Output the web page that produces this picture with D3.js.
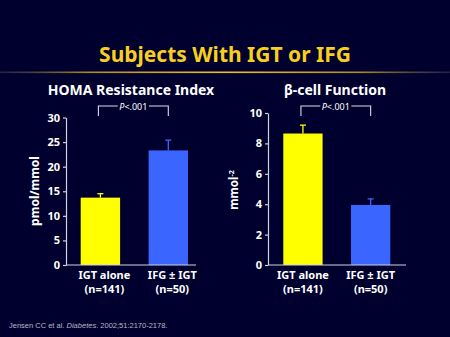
<!DOCTYPE html>
<html><head><meta charset="utf-8">
<script src="https://cdn.jsdelivr.net/npm/d3@7"></script>
<style>html,body{margin:0;padding:0;background:#00002e;}svg{display:block;}</style>
</head><body>
<svg id="c" width="450" height="337"></svg>
<script>
const categories = ["IGT alone", "IFG ± IGT"];
const categoryN = ["(n=141)", "(n=50)"];
const homaValues = [13.7, 23.3];
const homaSE = [0.8, 2.1];
const homaTicks = [0, 5, 10, 15, 20, 25, 30];
const betaValues = [8.65, 3.95];
const betaSE = [0.55, 0.4];
const betaTicks = [0, 2, 4, 6, 8, 10];
const barColors = ["#ffff00", "#3a66ff"];

const svg = d3.select("#c");
const W = 450, H = 337;
svg.append("rect").attr("width", W).attr("height", H).attr("fill", "#00002e");

const defs = svg.append("defs");
const g = defs.append("linearGradient").attr("id", "gl").attr("x1", "0").attr("x2", "1");
g.append("stop").attr("offset", "0").attr("stop-color", "#3a3a50").attr("stop-opacity", 0.6);
g.append("stop").attr("offset", "0.2").attr("stop-color", "#b08a20");
g.append("stop").attr("offset", "0.5").attr("stop-color", "#f0c020");
g.append("stop").attr("offset", "0.8").attr("stop-color", "#b08a20");
g.append("stop").attr("offset", "1").attr("stop-color", "#3a3a50").attr("stop-opacity", 0.6);

const font = "'Noto Sans', 'DejaVu Sans', sans-serif";

svg.append("text").attr("x", 225).attr("y", 62).attr("text-anchor", "middle")
  .attr("font-family", font).attr("font-weight", "bold").attr("font-size", 21)
  .attr("fill", "#f8cf1e").text("Subjects With IGT or IFG");
svg.append("rect").attr("x", 0).attr("y", 71.5).attr("width", W).attr("height", 1.6).attr("fill", "url(#gl)");

function panel(opt) {
  const gp = svg.append("g");
  const y = d3.scaleLinear().domain([0, opt.max]).range([265, opt.yTop]);
  const x = d3.scaleBand().domain(categories).range(opt.barRange).paddingInner(0.42).paddingOuter(0);
  gp.append("text").attr("x", opt.titleX).attr("y", 95).attr("text-anchor", "middle")
    .attr("font-family", font).attr("font-weight", "bold").attr("font-size", 14)
    .attr("fill", "#ffffff").text(opt.title);
  gp.selectAll("rect.bar").data(opt.values).join("rect").attr("class", "bar")
    .attr("x", (d, i) => x(categories[i])).attr("width", x.bandwidth())
    .attr("y", d => y(d)).attr("height", d => y(0) - y(d))
    .attr("fill", (d, i) => barColors[i]);
  opt.values.forEach((v, i) => {
    const cx = x(categories[i]) + x.bandwidth() / 2;
    gp.append("line").attr("x1", cx).attr("x2", cx).attr("y1", y(v)).attr("y2", y(v + opt.se[i]))
      .attr("stroke", barColors[i]).attr("stroke-width", 1.3);
    gp.append("line").attr("x1", cx - 3).attr("x2", cx + 3).attr("y1", y(v + opt.se[i])).attr("y2", y(v + opt.se[i]))
      .attr("stroke", barColors[i]).attr("stroke-width", 1.3);
  });
  const ax = gp.append("g").attr("transform", `translate(${opt.axisX},0)`)
    .call(d3.axisLeft(y).tickValues(opt.ticks).tickSize(3).tickPadding(3).tickSizeOuter(0));
  ax.select(".domain").attr("stroke", "#d0d0e0").attr("stroke-width", 1.2);
  ax.selectAll(".tick line").attr("stroke", "#d0d0e0").attr("stroke-width", 1.2);
  ax.selectAll(".tick text").attr("fill", "#ffffff").attr("font-family", font)
    .attr("font-weight", "bold").attr("font-size", 11);
  gp.append("line").attr("x1", opt.axisX).attr("x2", opt.axisEnd).attr("y1", 265).attr("y2", 265)
    .attr("stroke", "#d0d0e0").attr("stroke-width", 1.2);
  categories.forEach((c, i) => {
    const cx = x(c) + x.bandwidth() / 2 + opt.labelDx;
    gp.append("text").attr("x", cx).attr("y", 279).attr("text-anchor", "middle")
      .attr("font-family", font).attr("font-weight", "bold").attr("font-size", 11)
      .attr("fill", "#ffffff").text(c);
    gp.append("text").attr("x", cx).attr("y", 293).attr("text-anchor", "middle")
      .attr("font-family", font).attr("font-weight", "bold").attr("font-size", 11)
      .attr("fill", "#ffffff").text(categoryN[i]);
  });
  const yl = gp.append("text").attr("transform", `translate(${opt.ylabX},${opt.ylabY}) rotate(-90)`)
    .attr("text-anchor", "middle").attr("font-family", font).attr("font-weight", "bold")
    .attr("font-size", opt.ylabSize).attr("fill", "#ffffff");
  yl.append("tspan").text(opt.ylab);
  if (opt.ylabSup) yl.append("tspan").attr("font-size", 7).attr("dy", -4).text(opt.ylabSup);
  const bx1 = x(categories[0]) + x.bandwidth() / 2 - 2;
  const bx2 = x(categories[1]) + x.bandwidth() / 2;
  const by = 106, byb = 116;
  const mid = (bx1 + bx2) / 2;
  const t = gp.append("text").attr("x", mid).attr("y", 109.5).attr("text-anchor", "middle")
    .attr("font-family", font).attr("font-size", 9).attr("fill", "#ffffff");
  t.append("tspan").attr("font-style", "italic").text("P");
  t.append("tspan").text("<.001");
  const bb = t.node().getBBox();
  const st = "#d8d8e8";
  gp.append("path").attr("d", `M${bx1},${byb}V${by}H${bb.x - 1.5}`).attr("fill", "none").attr("stroke", st).attr("stroke-width", 1.1);
  gp.append("path").attr("d", `M${bb.x + bb.width + 1.5},${by}H${bx2}V${byb}`).attr("fill", "none").attr("stroke", st).attr("stroke-width", 1.1);
}

panel({ title: "HOMA Resistance Index", titleX: 131, values: homaValues, se: homaSE, ticks: homaTicks,
  max: 30, yTop: 117.5, barRange: [80.7, 188], axisX: 66, axisEnd: 196, labelDx: 4,
  ylab: "pmol/mmol", ylabSize: 12, ylabX: 39, ylabY: 191 });
panel({ title: "β-cell Function", titleX: 335, values: betaValues, se: betaSE, ticks: betaTicks,
  max: 10, yTop: 113, barRange: [283.3, 390.3], axisX: 268, axisEnd: 406, labelDx: 0,
  ylab: "mmol", ylabSup: "-2", ylabSize: 11.5, ylabX: 238, ylabY: 190 });

const fn = svg.append("text").attr("x", 9).attr("y", 328).attr("font-family", "'Liberation Sans', Arial, sans-serif")
  .attr("font-size", 7.5).attr("fill", "#b8b8c8");
fn.append("tspan").text("Jensen CC et al. ");
fn.append("tspan").attr("font-style", "italic").text("Diabetes");
fn.append("tspan").text(". 2002;51:2170-2178.");
</script>
</body></html>
